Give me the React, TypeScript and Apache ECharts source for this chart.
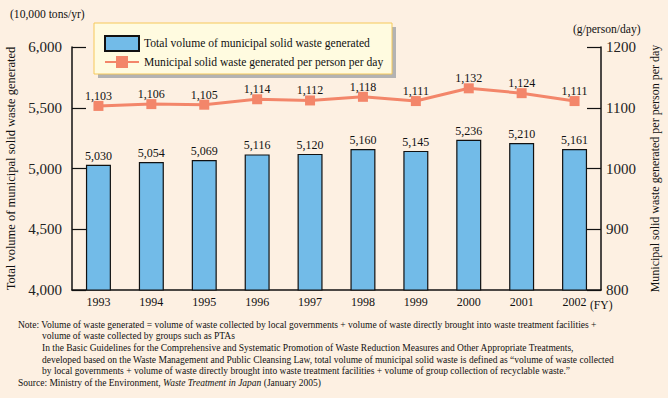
import React, { useEffect, useRef } from "react";
import * as echarts from "echarts";

const years = ["1993", "1994", "1995", "1996", "1997", "1998", "1999", "2000", "2001", "2002"];
const totalVolume = [5030, 5054, 5069, 5116, 5120, 5160, 5145, 5236, 5210, 5161];
const perPerson = [1103, 1106, 1105, 1114, 1112, 1118, 1111, 1132, 1124, 1111];
const leftTicks = { min: 4000, max: 6000, interval: 500 };
const rightTicks = { min: 800, max: 1200, interval: 100 };
const barName = "Total volume of municipal solid waste generated";
const lineName = "Municipal solid waste generated per person per day";
const noteLines = [
  "Note: Volume of waste generated = volume of waste collected by local governments + volume of waste directly brought into waste treatment facilities +",
  "volume of waste collected by groups such as PTAs",
  "In the Basic Guidelines for the Comprehensive and Systematic Promotion of Waste Reduction Measures and Other Appropriate Treatments,",
  "developed based on the Waste Management and Public Cleansing Law, total volume of municipal solid waste is defined as \u201cvolume of waste collected",
  "by local governments + volume of waste directly brought into waste treatment facilities + volume of group collection of recyclable waste.\u201d",
];
const sourcePrefix = "Source: Ministry of the Environment, ";
const sourceTitle = "Waste Treatment in Japan";
const sourceSuffix = " (January 2005)";

const FONT = "'Liberation Serif', 'Times New Roman', serif";
const BG = "#fdf0e2";
const BAR = "#72bbe8";
const LINE = "#f3866a";
const NOTE_SIZE = 9.5;

const fmt = (v: number) => v.toLocaleString("en-US");

export default function App() {
  const ref = useRef<HTMLDivElement>(null);
  useEffect(() => {
    if (!ref.current) return;
    const chart = echarts.init(ref.current, undefined, { renderer: "svg" });
    const noteGraphics: any[] = noteLines.map((t, i) => ({
      type: "text",
      left: i === 0 ? 18 : 42,
      top: 319.5 + i * 11.7,
      style: { text: t, font: `${NOTE_SIZE}px ${FONT}`, fill: "#111" },
    }));
    noteGraphics.push({
      type: "text",
      left: 18,
      top: 319.5 + 5 * 11.7,
      style: {
        text: `{n|${sourcePrefix}}{i|${sourceTitle}}{n|${sourceSuffix}}`,
        rich: {
          n: { fontFamily: FONT, fontSize: NOTE_SIZE, fill: "#111" },
          i: { fontFamily: FONT, fontSize: NOTE_SIZE, fontStyle: "italic", fill: "#111" },
        },
      },
    });
    chart.setOption({
      animation: false,
      backgroundColor: BG,
      textStyle: { fontFamily: FONT },
      grid: { left: 72, right: 67, top: 47, bottom: 108, containLabel: false, outerBoundsMode: "none" },
      legend: {
        orient: "vertical",
        left: 104,
        top: 35,
        padding: 0,
        itemWidth: 34,
        itemHeight: 15,
        itemGap: 4,
        textStyle: { fontFamily: FONT, fontSize: 11.6, color: "#111" },
        data: [{ name: barName, icon: "rect" }, { name: lineName }],
        z: 10,
      },
      graphic: [
        { type: "rect", shape: { x: 98, y: 27, width: 298, height: 51 }, style: { fill: "#b3b3b3" }, z: -1 },
        { type: "rect", shape: { x: 94, y: 23, width: 298, height: 51 }, style: { fill: "#fffbe0", stroke: "#f6c95a", lineWidth: 1 }, z: 0 },
        { type: "text", left: 10, top: 8, style: { text: "(10,000 tons/yr)", font: `11.6px ${FONT}`, fill: "#111" } },
        { type: "text", left: 573, top: 23, style: { text: "(g/person/day)", font: `11.6px ${FONT}`, fill: "#111" } },
        { type: "text", left: 590, top: 299, style: { text: "(FY)", font: `11.6px ${FONT}`, fill: "#111" } },
        ...noteGraphics,
      ],
      xAxis: {
        type: "category",
        data: years,
        axisLine: { lineStyle: { color: "#111", width: 1.5 } },
        axisTick: { inside: true, length: 7, lineStyle: { color: "#111", width: 1.2 } },
        axisLabel: { fontFamily: FONT, fontSize: 12, color: "#111", margin: 6 },
      },
      yAxis: [
        {
          type: "value",
          ...leftTicks,
          name: "Total volume of municipal solid waste generated",
          nameLocation: "middle",
          nameGap: 54,
          nameTextStyle: { fontFamily: FONT, fontSize: 12.5, color: "#111" },
          axisLine: { show: true, lineStyle: { color: "#111", width: 1.5 } },
          axisTick: { show: true, inside: true, length: 14, lineStyle: { color: "#111", width: 1.2 } },
          axisLabel: { fontFamily: FONT, fontSize: 15, color: "#222", margin: 10, formatter: (v: number) => fmt(v) },
          splitLine: { show: false },
        },
        {
          type: "value",
          ...rightTicks,
          name: "Municipal solid waste generated per person per day",
          nameLocation: "middle",
          nameGap: 48,
          nameRotate: 90,
          nameTextStyle: { fontFamily: FONT, fontSize: 12, color: "#111" },
          axisLine: { show: true, lineStyle: { color: "#111", width: 1.5 } },
          axisTick: { show: true, inside: true, length: 14, lineStyle: { color: "#111", width: 1.2 } },
          axisLabel: { fontFamily: FONT, fontSize: 15, color: "#222", margin: 5, formatter: (v: number) => String(v) },
          splitLine: { show: false },
        },
      ],
      series: [
        {
          name: barName,
          type: "bar",
          data: totalVolume,
          barWidth: 25,
          yAxisIndex: 0,
          itemStyle: { color: BAR, borderColor: "#111", borderWidth: 1.2 },
          label: {
            show: true,
            position: "top",
            distance: 3,
            fontFamily: FONT,
            fontSize: 12,
            color: "#111",
            formatter: (p: any) => fmt(p.value),
          },
        },
        {
          name: lineName,
          type: "line",
          data: perPerson,
          yAxisIndex: 1,
          symbol: "rect",
          symbolSize: 10,
          lineStyle: { color: LINE, width: 3 },
          itemStyle: { color: LINE },
          label: {
            show: true,
            position: "top",
            distance: -1,
            fontFamily: FONT,
            fontSize: 12,
            color: "#111",
            formatter: (p: any) => fmt(p.value),
          },
        },
      ],
    });
    return () => chart.dispose();
  }, []);
  return (
    <div
      ref={ref}
      style={{ position: "fixed", left: 0, top: 0, width: 668, height: 398 }}
    />
  );
}
